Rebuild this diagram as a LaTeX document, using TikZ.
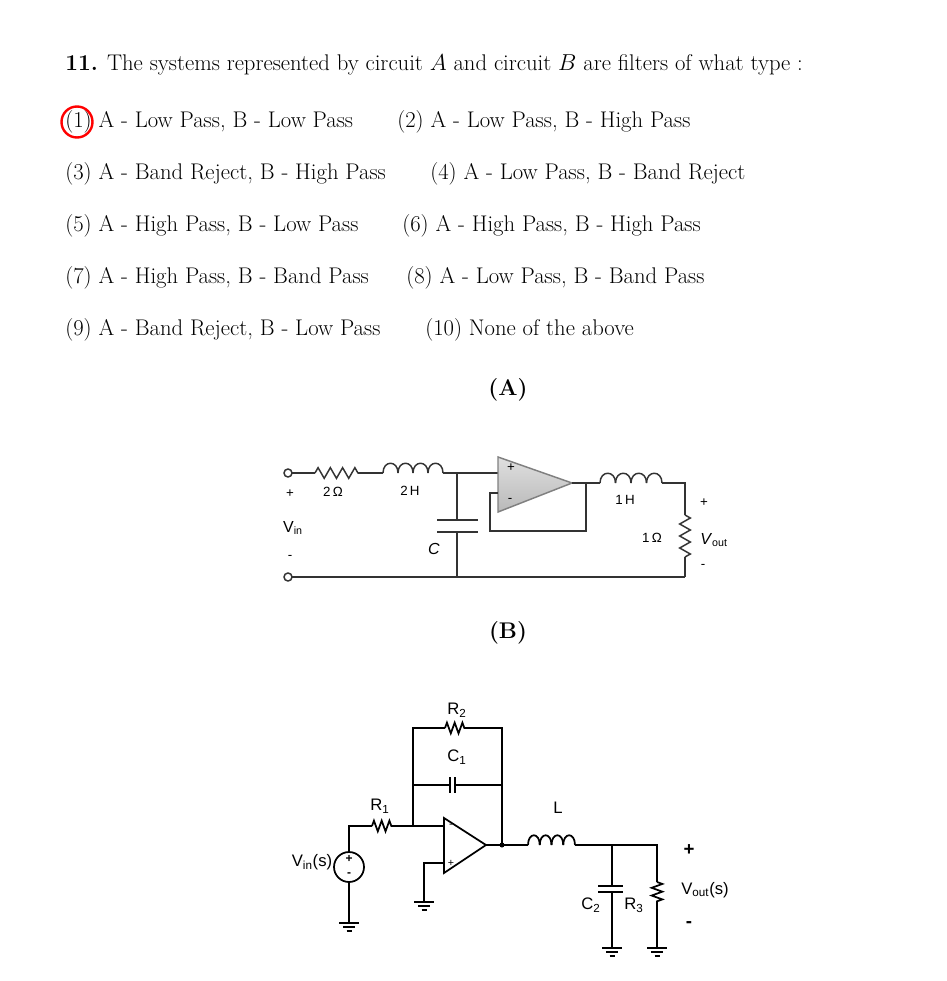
\documentclass[tikz,border=0pt]{standalone}
\usepackage{fontspec}
\newfontfamily\arialfont{Liberation Sans}
\usetikzlibrary{decorations.pathmorphing}

% horizontal and vertical resistors (#4 = segment length), inductor humps, ground
\newcommand{\resH}[4]{\draw[decorate, decoration={zigzag, segment length=#4, amplitude=4pt}] (#1,#3) -- (#2,#3);}
\newcommand{\resV}[4]{\draw[decorate, decoration={zigzag, segment length=#4, amplitude=4pt}] (#3,#1) -- (#3,#2);}
\newcommand{\indH}[3]{%
  \pgfmathsetmacro{\indw}{(#2-#1)/4}
  \foreach \i in {0,...,3}{
    \draw ({#1+\i*\indw},#3) .. controls ({#1+\i*\indw},#3-13) and ({#1+(\i+1)*\indw},#3-13) .. ({#1+(\i+1)*\indw},#3);
  }}
\newcommand{\gnd}[2]{%
  \draw[line width=1.4pt] (#1-10,#2) -- (#1+10,#2);
  \draw[line width=1.4pt] (#1-6,#2+4) -- (#1+6,#2+4);
  \draw[line width=1.4pt] (#1-2.5,#2+8) -- (#1+2.5,#2+8);}

\tikzset{
  lblA/.style={font=\arialfont\fontsize{10}{12}\selectfont},
  lblB/.style={font=\arialfont\fontsize{12.5}{14}\selectfont},
  opt/.style={anchor=west, inner sep=0pt, font=\fontsize{17}{20}\selectfont},
}

\begin{document}
\begin{tikzpicture}[x=0.75pt, y=-0.75pt]

    \useasboundingbox[fill=white] (0,0) rectangle (946,981);

    % question and answers
    \node[opt] (q) at (65,65) {\textbf{11.} The systems represented by circuit $A$ and circuit $B$ are filters of what type :};
    \node[opt] (o1) at (65,122) {(1) A - Low Pass, B - Low Pass};
    \node[opt] (o2) at (397,122) {(2) A - Low Pass, B - High Pass};
    \node[opt] (o3) at (65,174) {(3) A - Band Reject, B - High Pass};
    \node[opt] (o4) at (430,174) {(4) A - Low Pass, B - Band Reject};
    \node[opt] (o5) at (65,226) {(5) A - High Pass, B - Low Pass};
    \node[opt] (o6) at (402,226) {(6) A - High Pass, B - High Pass};
    \node[opt] (o7) at (65,278) {(7) A - High Pass, B - Band Pass};
    \node[opt] (o8) at (406,278) {(8) A - Low Pass, B - Band Pass};
    \node[opt] (o9) at (65,330) {(9) A - Band Reject, B - Low Pass};
    \node[opt] (o10) at (425,330) {(10) None of the above};
    \draw[red, line width=1.8pt] (77,122) circle (15.5);

    \node[font=\fontsize{17}{20}\selectfont\bfseries] (ta) at (508,390) {(A)};
    \node[font=\fontsize{17}{20}\selectfont\bfseries] (tb) at (508,633) {(B)};

    % circuit A
    \begin{scope}[line width=1.1pt, black!80]
    \draw (288,473) circle (4);
    \draw (288,577) circle (4);
    \draw (292,473) -- (315,473);
    \resH{315}{358}{473}{9.2pt}
    \draw (358,473) -- (383,473);
    \indH{383}{443}{473}
    \draw (443,473) -- (498,473);
    \draw (457,473) -- (457,520);
    \draw (437,520) -- (478,520);
    \draw (437,532) -- (478,532);
    \draw (457,532) -- (457,577);
    \draw (292,577) -- (685,577);
    \draw[top color=gray!25, bottom color=gray!55, draw=gray] (498,457) -- (572,483) -- (498,512) -- cycle;
    \draw (498,493) -- (490,493) -- (490,531) -- (586,531) -- (586,483);
    \draw (572,483) -- (600,483);
    \indH{600}{662}{483}
    \draw (662,483) -- (685,483) -- (685,515);
    \resV{515}{557}{685}{9pt}
    \draw (685,557) -- (685,577);
    \end{scope}
    \node[lblA] (pa) at (511,468) {+};
    \node[lblA] (ma) at (510,500) {-};
    \node[lblA] (vp) at (290,494) {+};
    \node[lblA] (r2o) at (333,492) {2\,Ω};
    \node[lblA] (l2h) at (410,491) {2\,H};
    \node[lblA, font=\arialfont\fontsize{12}{14}\selectfont] (vin) at (293,528) {V\textsubscript{in}};
    \node[lblA] (vm) at (290,557) {-};
    \node[lblA, font=\arialfont\itshape\fontsize{12}{14}\selectfont] (cc) at (434,549) {C};
    \node[lblA] (l1h) at (625,500) {1\,H};
    \node[lblA] (op) at (704,503) {+};
    \node[lblA] (r1o) at (652,538) {1\,Ω};
    \node[lblA, font=\arialfont\fontsize{12}{14}\selectfont] (vout) at (714,540) {\textit{V}\textsubscript{out}};
    \node[lblA] (om) at (703,566) {-};

    % circuit B
    \begin{scope}[line width=1.3pt]
    \draw (349,867) circle (15);
    \node[font=\arialfont\bfseries\fontsize{9}{10}\selectfont] (sp) at (349,859) {+};
    \node[font=\arialfont\bfseries\fontsize{9}{10}\selectfont] (sm) at (349,875) {-};
    \draw (349,852) -- (349,826) -- (372,826);
    \resH{372}{395}{826}{5.8pt}
    \draw (395,826) -- (444,826);
    \draw (413,826) -- (413,728) -- (445,728);
    \resH{445}{468}{728}{5.8pt}
    \draw (468,728) -- (502,728) -- (502,845);
    \draw (413,785) -- (450,785);
    \draw (455,785) -- (502,785);
    \draw (450,777) -- (450,793);
    \draw (455,777) -- (455,793);
    \draw (444,818) -- (486,845) -- (444,873) -- cycle;
    \node[font=\arialfont\fontsize{8}{9}\selectfont] (mb) at (451,826) {-};
    \node[font=\arialfont\fontsize{8}{9}\selectfont] (pb) at (451,863) {+};
    \draw (444,863) -- (424,863) -- (424,902);
    \gnd{424}{902}
    \draw (349,882) -- (349,923);
    \gnd{349}{923}
    \fill (502,845) circle (2.5);
    \draw (486,845) -- (528,845);
    \indH{528}{575}{845}
    \draw (575,845) -- (657,845) -- (657,882);
    \resV{882}{905}{657}{5.8pt}
    \draw (657,905) -- (657,948);
    \gnd{657}{948}
    \draw (612,845) -- (612,886);
    \draw (598,886) -- (623,886);
    \draw (598,892) -- (623,892);
    \draw (612,892) -- (612,948);
    \gnd{612}{948}
    \end{scope}
    \node[lblB] (r2) at (457,710) {R\textsubscript{2}};
    \node[lblB] (c1) at (457,757) {C\textsubscript{1}};
    \node[lblB] (r1) at (380,806) {R\textsubscript{1}};
    \node[lblB] (ll) at (558,808) {L};
    \node[lblB] (vins) at (312,862) {V\textsubscript{in}(s)};
    \node[lblB, font=\arialfont\bfseries\fontsize{14}{16}\selectfont] (bp) at (689,850) {+};
    \node[lblB] (vouts) at (705,890) {V\textsubscript{out}(s)};
    \node[lblB, font=\arialfont\bfseries\fontsize{14}{16}\selectfont] (bm) at (689,925) {-};
    \node[lblB] (c2) at (591,905) {C\textsubscript{2}};
    \node[lblB] (r3) at (634,905) {R\textsubscript{3}};

\end{tikzpicture}
\end{document}
